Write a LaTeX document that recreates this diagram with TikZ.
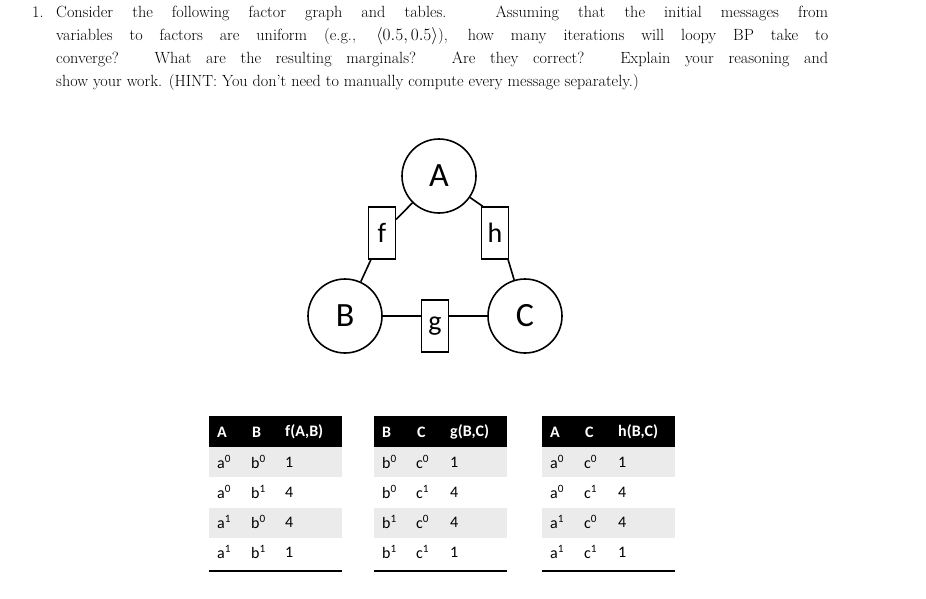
\documentclass[tikz,border=0pt]{standalone}
\usepackage{fontspec}
\newfontfamily\carl{Carlito}
\begin{document}
\begin{tikzpicture}[x=1pt,y=-1pt,
  var/.style={draw,line width=1.6pt,circle,minimum size=74pt,inner sep=0pt,font=\carl\fontsize{34}{34}\selectfont},
  fac/.style={draw,line width=1.1pt,fill=white,minimum width=27pt,minimum height=52pt,inner sep=0pt,font=\carl\fontsize{28}{28}\selectfont},
  edge/.style={line width=1.6pt},
  cell/.style={anchor=west,font=\carl\fontsize{16}{16}\selectfont,inner sep=0pt},
  hcell/.style={cell,text=white,font=\carl\bfseries\fontsize{16}{16}\selectfont}]
\useasboundingbox (0,0) rectangle (926,598);
\node[anchor=north west,inner sep=0pt] (q) at (32,6) {\parbox[t]{796pt}{\fontsize{16.2}{23}\selectfont\hangindent=24pt\hangafter=1
\makebox[24pt][l]{1.}Consider the following factor graph and tables. Assuming that the initial messages from\linebreak variables to factors are uniform (e.g., $\langle 0.5, 0.5\rangle$), how many iterations will loopy BP take to\linebreak converge? What are the resulting marginals? Are they correct? Explain your reasoning and\linebreak show your work. (HINT: You don't need to manually compute every message separately.)}};
\node[var] (A) at (439,176) {A};
\node[var] (B) at (345,316) {B};
\node[var] (C) at (525,316) {C};
\node[fac] (f) at (382,233) {f};
\node[fac] (h) at (495,233) {h};
\node[fac] (g) at (435,326) {g};
\draw[edge] (A) -- ([yshift=-13pt]f.north east);
\draw[edge] ([xshift=3pt]f.south west) -- (B);
\draw[edge] (A) -- ([xshift=2pt]h.north west);
\draw[edge] ([xshift=-1pt]h.south east) -- (C);
\draw[edge] (B.east) -- (g.west|-B.east);
\draw[edge] (g.east|-C.west) -- (C.west);
\foreach \x/\ha/\hb/\hc/\pa/\pb [count=\t] in {209/A/B/{f(A,B)}/a/b, 374/B/C/{g(B,C)}/b/c, 542/A/C/{h(B,C)}/a/c}{
  \fill[black] (\x,416) rectangle ++(133,31);
  \fill[black!8] (\x,447) rectangle ++(133,30);
  \fill[black!8] (\x,508) rectangle ++(133,30);
  \draw[line width=1.6pt] (\x,571) -- ++(133,0);
  \node[hcell] (h1\t) at (\x+8,432) {\ha};
  \node[hcell] (h2\t) at (\x+43,432) {\hb};
  \node[hcell] (h3\t) at (\x+76,432) {\hc};
  \foreach \i/\j/\v [count=\r] in {0/0/1,0/1/4,1/0/4,1/1/1}{
    \node[cell] (r\t\r a) at (\x+8,432+30*\r) {\pa\textsuperscript{\i}};
    \node[cell] (r\t\r b) at (\x+42,432+30*\r) {\pb\textsuperscript{\j}};
    \node[cell] (r\t\r c) at (\x+76,432+30*\r) {\v};
  }
}
\end{tikzpicture}
\end{document}
